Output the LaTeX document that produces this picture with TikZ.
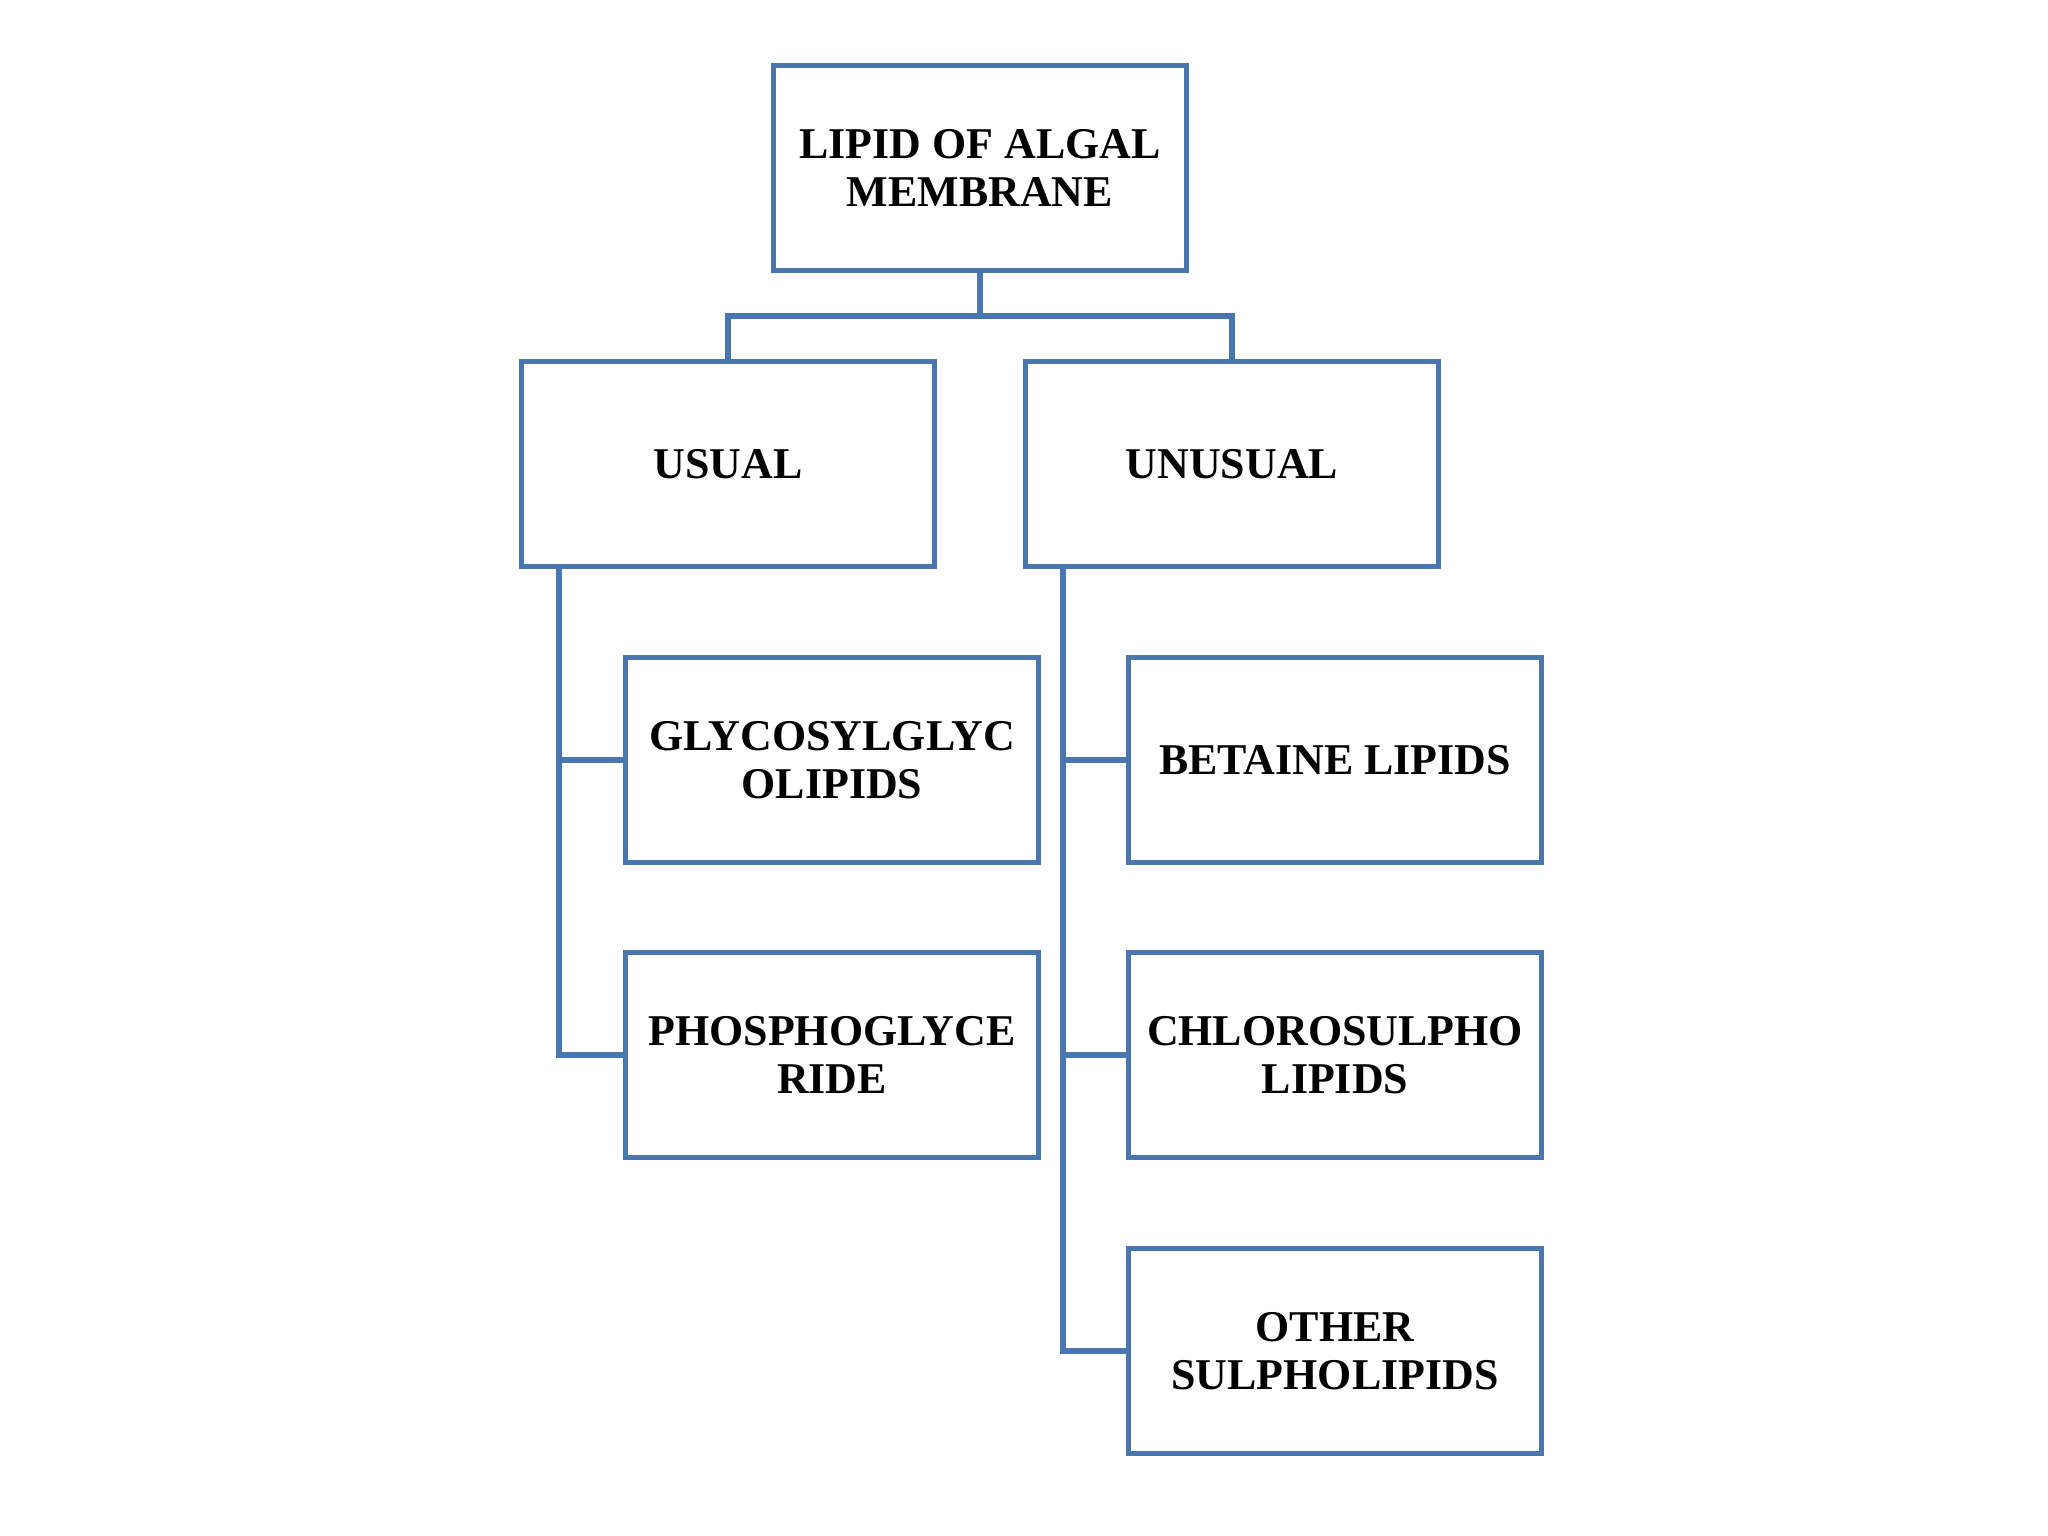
\documentclass[tikz,border=0pt]{standalone}
\usepackage{fontspec}
\setmainfont{Liberation Serif}
\definecolor{boxblue}{RGB}{74,118,176}

\begin{document}
\begin{tikzpicture}[
	box/.style={draw=boxblue, line width=1.6pt, fill=white,
		minimum width=4.13cm, minimum height=2.05cm, inner sep=0pt,
		align=center, font=\fontsize{12.5}{13.8}\selectfont\bfseries},
	link/.style={draw=boxblue, line width=1.6pt}
]
	\useasboundingbox (0, 0) rectangle (20.48, -15.36);

	% positions of the columns
	\def\xl{8.32}
	\def\xr{13.35}

	% boxes
	\node[box] (lipid)   at (9.80, -1.68)  {LIPID OF ALGAL\\MEMBRANE};
	\node[box] (usual)   at (7.28, -4.64)  {USUAL};
	\node[box] (unusual) at (12.32, -4.64) {UNUSUAL};

	\node[box] (glyco)   at (\xl, -7.60)  {GLYCOSYLGLYC\\OLIPIDS};
	\node[box] (phospho) at (\xl, -10.55) {PHOSPHOGLYCE\\RIDE};

	\node[box] (betaine) at (\xr, -7.60)  {BETAINE LIPIDS};
	\node[box] (chloro)  at (\xr, -10.55) {CHLOROSULPHO\\LIPIDS};
	\node[box] (other)   at (\xr, -13.51) {OTHER\\SULPHOLIPIDS};

	% top split
	\coordinate (split) at ([yshift=-0.43cm]lipid.south);
	\draw[link] (lipid.south) -- (split);
	\draw[link] (split) -| (usual.north);
	\draw[link] (split) -| (unusual.north);

	% left spine
	\coordinate (lspine) at ([xshift=0.40cm]usual.south west);
	\draw[link] (lspine) |- (phospho.west);
	\draw[link] (lspine |- glyco.west) -- (glyco.west);

	% right spine
	\coordinate (rspine) at ([xshift=0.40cm]unusual.south west);
	\draw[link] (rspine) |- (other.west);
	\foreach \n in {betaine, chloro} {
		\draw[link] (rspine |- \n.west) -- (\n.west);
	}
\end{tikzpicture}
\end{document}
